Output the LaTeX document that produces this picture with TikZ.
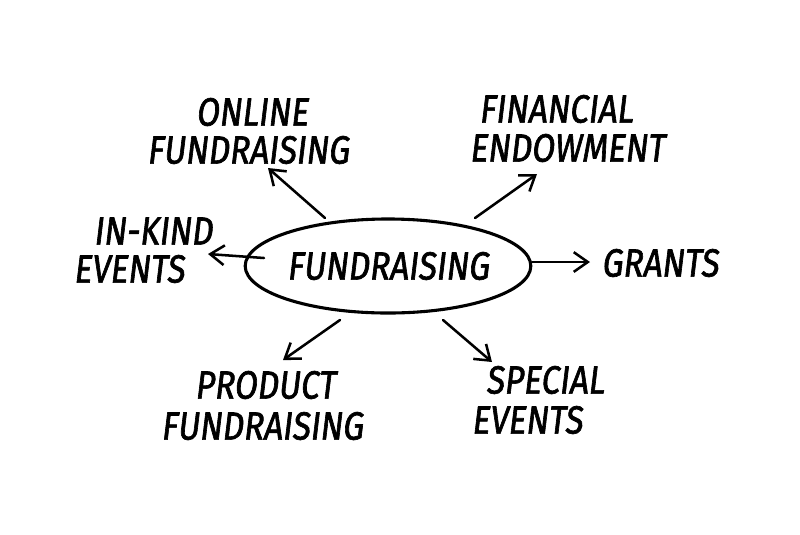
\documentclass[tikz,border=0pt]{standalone}
\usepackage{fontspec}
\setmainfont[FakeStretch=0.84,FakeSlant=0.12,FakeBold=1.6]{Fira Sans}
\usetikzlibrary{arrows.meta,shapes.geometric}
\tikzset{
  lbl/.style={font=\fontsize{28}{30}\selectfont, inner sep=0pt},
  arr/.style={-{Straight Barb[length=10pt,width=14pt,line width=1.8pt]}, line width=1.8pt, line cap=round}
}
\begin{document}
\begin{tikzpicture}[x=0.025cm,y=-0.025cm, line join=round, line cap=round]
  \useasboundingbox (0,0) rectangle (800,534);
  % centre
  \node[ellipse, draw, line width=2.2pt, minimum width=6.95cm, minimum height=2.35cm, lbl] (fund) at (388,266) {FUNDRAISING};
  % labels
  \node[lbl] (online) at (252,112) {ONLINE};
  \node[lbl] (onlineB) at (248,150) {FUNDRAISING};
  \node[lbl] (financial) at (556,109) {FINANCIAL};
  \node[lbl] (financialB) at (567,148) {ENDOWMENT};
  \node[lbl] (inkind) at (153,231) {IN-KIND};
  \node[lbl] (inkindB) at (129,269) {EVENTS};
  \node[lbl] (grants) at (660,263) {GRANTS};
  \node[lbl] (product) at (265,385) {PRODUCT};
  \node[lbl] (productB) at (262,426) {FUNDRAISING};
  \node[lbl] (special) at (545,380) {SPECIAL};
  \node[lbl] (specialB) at (527,420) {EVENTS};
  % arrow ends
  \coordinate (onlineTail) at (325,218);   \coordinate (onlineTip) at (268,168);
  \coordinate (financialTail) at (475,218); \coordinate (financialTip) at (537,174);
  \coordinate (inkindTail) at (264,258);   \coordinate (inkindTip) at (208,254);
  \coordinate (grantsTail) at (532,262);   \coordinate (grantsTip) at (590,262);
  \coordinate (productTail) at (340,320);  \coordinate (productTip) at (283,360);
  \coordinate (specialTail) at (443,320);  \coordinate (specialTip) at (492,362);
  \foreach \t in {online,financial,inkind,grants,product,special}
    \draw[arr] (\t Tail) -- (\t Tip);
\end{tikzpicture}
\end{document}
